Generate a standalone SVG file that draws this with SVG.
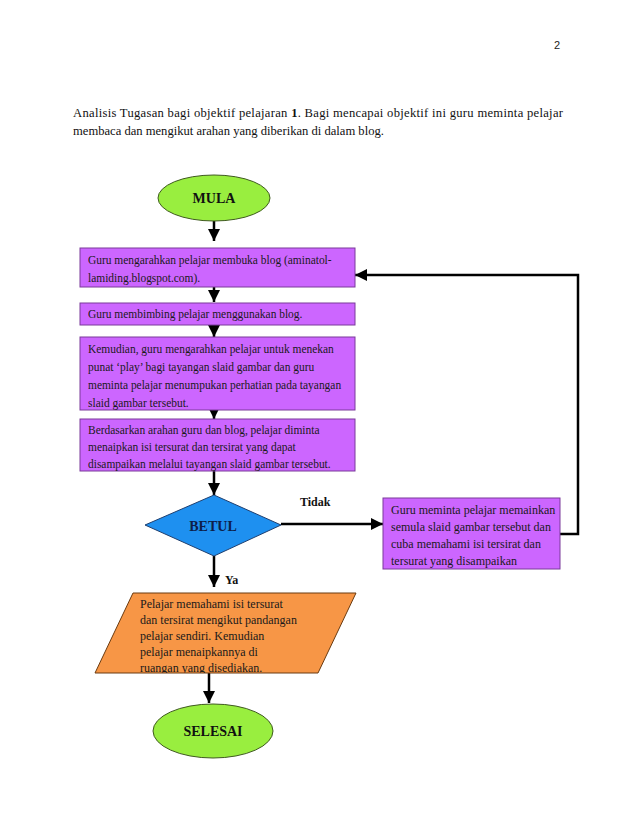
<svg xmlns="http://www.w3.org/2000/svg" width="638" height="826" viewBox="0 0 638 826">
<style>
.t{font-family:"Liberation Serif","Times New Roman",serif;font-size:12px;fill:#1a1a1a}
.s{font-size:11.45px}
.p{font-family:"Liberation Serif","Times New Roman",serif;font-size:12.6px;fill:#111}
.b{font-family:"Liberation Serif","Times New Roman",serif;font-weight:bold;fill:#111}
.box{fill:#CC66FF;stroke:#7a3a9a;stroke-width:1}
.ell{fill:#99EE3F;stroke:#3f5a1f;stroke-width:1}
.c{fill:none;stroke:#000;stroke-width:2.5}
</style>
<defs>
<marker id="ah" markerUnits="userSpaceOnUse" markerWidth="12" markerHeight="12" viewBox="0 0 12 12" refX="12" refY="6" orient="auto">
<path d="M0,0 L12,6 L0,12 Z" fill="#000"/>
</marker>
<clipPath id="pc"><polygon points="133,593 356,593 318,673 95,673"/></clipPath>
</defs>
<rect width="638" height="826" fill="#fff"/>
<text x="560" y="49" style="font-family:'Liberation Sans',Arial,sans-serif;font-size:11px;fill:#222" text-anchor="end">2</text>
<text class="p" x="73" y="117" textLength="490" lengthAdjust="spacing">Analisis Tugasan bagi objektif pelajaran <tspan font-weight="bold">1</tspan>. Bagi mencapai objektif ini guru meminta pelajar</text>
<text class="p" x="73" y="135">membaca dan mengikut arahan yang diberikan di dalam blog.</text>

<g id="connectors">
<line class="c" x1="214" y1="221" x2="214" y2="241" marker-end="url(#ah)"/>
<line class="c" x1="214" y1="287" x2="214" y2="302" marker-end="url(#ah)"/>
<line class="c" x1="214" y1="325" x2="214" y2="337" marker-end="url(#ah)"/>
<line class="c" x1="214" y1="410" x2="214" y2="419" marker-end="url(#ah)"/>
<line class="c" x1="214" y1="471" x2="214" y2="495" marker-end="url(#ah)"/>
<line class="c" x1="281" y1="524" x2="383" y2="524" marker-end="url(#ah)"/>
<line class="c" x1="214" y1="556" x2="214" y2="587" marker-end="url(#ah)"/>
<line class="c" x1="209" y1="673" x2="209" y2="703" marker-end="url(#ah)"/>
<polyline class="c" points="560,534 578,534 578,275 355,275" marker-end="url(#ah)"/>
<text class="b" x="300" y="506" font-size="12">Tidak</text>
<text class="b" x="225" y="584" font-size="12">Ya</text>
</g>

<g id="mula">
<ellipse class="ell" cx="214" cy="198" rx="56" ry="23"/>
<text class="b" x="214" y="203" font-size="14" text-anchor="middle">MULA</text>
</g>

<g id="box1">
<rect class="box" x="80" y="248" width="275" height="39"/>
<text class="t s" x="88" y="264">Guru mengarahkan pelajar membuka blog (aminatol-</text>
<text class="t s" x="88" y="282">lamiding.blogspot.com).</text>
</g>

<g id="box2">
<rect class="box" x="80" y="303" width="275" height="22"/>
<text class="t s" x="88" y="318">Guru membimbing pelajar menggunakan blog.</text>
</g>

<g id="box3">
<rect class="box" x="80" y="337" width="275" height="73"/>
<text class="t s" x="88" y="353">Kemudian, guru mengarahkan pelajar untuk menekan</text>
<text class="t s" x="88" y="371">punat ‘play’ bagi tayangan slaid gambar dan guru</text>
<text class="t s" x="88" y="389">meminta pelajar menumpukan perhatian pada tayangan</text>
<text class="t s" x="88" y="407">slaid gambar tersebut.</text>
</g>

<g id="box4">
<rect class="box" x="80" y="419" width="275" height="52"/>
<text class="t s" x="88" y="434">Berdasarkan arahan guru dan blog, pelajar diminta</text>
<text class="t s" x="88" y="451">menaipkan isi tersurat dan tersirat yang dapat</text>
<text class="t s" x="88" y="468">disampaikan melalui tayangan slaid gambar tersebut.</text>
</g>

<g id="betul">
<polygon points="214,495 281,525 214,556 145,525" fill="#1E90F0" stroke="#1f3f6f" stroke-width="1"/>
<text class="b" x="213" y="531" font-size="14" text-anchor="middle" style="fill:#0d1f4a">BETUL</text>
</g>

<g id="box5">
<rect class="box" x="383" y="498" width="177" height="71"/>
<text class="t" x="391" y="514">Guru meminta pelajar memainkan</text>
<text class="t" x="391" y="531">semula slaid gambar tersebut dan</text>
<text class="t" x="391" y="548">cuba memahami isi tersirat dan</text>
<text class="t" x="391" y="565">tersurat yang disampaikan</text>
</g>

<g id="para">
<polygon points="133,593 356,593 318,673 95,673" fill="#F79646" stroke="#6b3b10" stroke-width="1"/>
<g clip-path="url(#pc)">
<text class="t" x="140" y="608">Pelajar memahami isi tersurat</text>
<text class="t" x="140" y="624">dan tersirat mengikut pandangan</text>
<text class="t" x="140" y="640">pelajar sendiri. Kemudian</text>
<text class="t" x="140" y="656">pelajar menaipkannya di</text>
<text class="t" x="140" y="672">ruangan yang disediakan.</text>
</g>
</g>

<g id="selesai">
<ellipse class="ell" cx="213" cy="731" rx="60" ry="27"/>
<text class="b" x="213" y="736" font-size="14" text-anchor="middle">SELESAI</text>
</g>
</svg>
